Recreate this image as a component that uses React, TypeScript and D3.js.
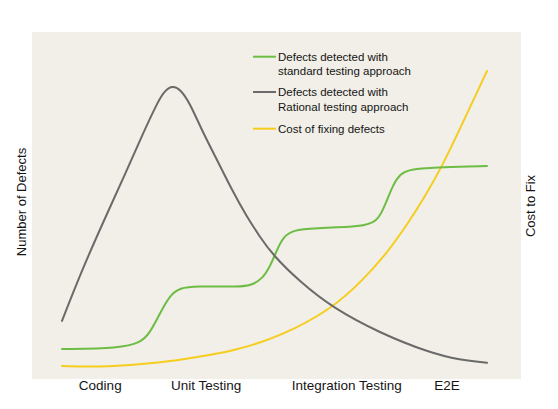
import { useEffect, useRef } from "react";
import * as d3 from "d3";

// x: progress along the project timeline (0-100), y: relative level (0-100)
const standardDefects: [number, number][] = [
  [0, 8.1], [13.6, 8.4], [18.4, 10], [20.7, 13.1], [23.1, 19.4], [25.4, 25],
  [27.8, 27.2], [31.3, 27.8], [41.9, 27.5], [44.7, 28.1], [47.3, 30.3],
  [48.9, 33.8], [50.6, 39.1], [52, 43.1], [54.4, 45.3], [59.1, 45.9],
  [70.8, 46.3], [74.1, 48.1], [75.5, 51.6], [76.5, 54.7], [77.9, 59.4],
  [79.5, 62.8], [81.9, 64.4], [89.4, 65], [100, 65.3],
];

const rationalDefects: [number, number][] = [
  [0, 16.9], [4.7, 32.8], [9.6, 47.5], [15.3, 64.1], [19.1, 75.6], [22.4, 85],
  [24, 88.6], [25.9, 90.5], [27.8, 89.4], [30.1, 85], [33.2, 75.6], [36.5, 67.2],
  [40, 57.8], [43.5, 49.4], [46.6, 43.1], [49.6, 37.5], [56, 29.1],
  [63.8, 20.9], [74.8, 13.1], [86.6, 6.9], [93.6, 4.7], [100, 3.8],
];

const fixCost: [number, number][] = [
  [0, 2.8], [10.6, 2.5], [23.3, 3.8], [31.8, 5.6], [39.5, 7.2], [51.3, 11.9],
  [63.8, 20.9], [70.8, 29.7], [76.5, 38.1], [81.9, 48.4], [84.9, 54.7],
  [89.4, 65], [94.6, 79.7], [100, 95],
];

const stages = ["Coding", "Unit Testing", "Integration Testing", "E2E"];
const stagePos = [9, 33.9, 67, 90.6];

const legendItems = [
  { lines: ["Defects detected with", "standard testing approach"], color: "#6dbd45" },
  { lines: ["Defects detected with", "Rational testing approach"], color: "#6a6a6a" },
  { lines: ["Cost of fixing defects"], color: "#f6cd1e" },
];

const App = () => {
  const ref = useRef<SVGSVGElement | null>(null);

  useEffect(() => {
    const width = 558;
    const height = 409;
    const svg = d3.select(ref.current);
    svg.selectAll("*").remove();
    svg.attr("width", width).attr("height", height);

    const font = "'Liberation Sans', Arial, sans-serif";
    const ink = "#151515";

    svg.append("rect").attr("width", width).attr("height", height).attr("fill", "#fff");

    // panel
    svg
      .append("rect")
      .attr("x", 32)
      .attr("y", 32)
      .attr("width", 489)
      .attr("height", 347)
      .attr("fill", "#f1efe7");

    const x = d3.scaleLinear().domain([0, 100]).range([62, 487]);
    const y = d3.scaleLinear().domain([0, 100]).range([375, 55]);

    const line = d3
      .line<[number, number]>()
      .x((d) => x(d[0]))
      .y((d) => y(d[1]))
      .curve(d3.curveBasis);

    const series = [
      { data: fixCost, color: legendItems[2].color },
      { data: standardDefects, color: legendItems[0].color },
      { data: rationalDefects, color: legendItems[1].color },
    ];

    series.forEach((s) => {
      svg
        .append("path")
        .attr("d", line(s.data))
        .attr("fill", "none")
        .attr("stroke", s.color)
        .attr("stroke-width", 2)
        .attr("stroke-linecap", "round");
    });

    // stage labels
    svg
      .selectAll(".stage")
      .data(stages)
      .enter()
      .append("text")
      .attr("class", "stage")
      .attr("x", (_d, i) => x(stagePos[i]))
      .attr("y", 390)
      .attr("text-anchor", "middle")
      .attr("font-family", font)
      .attr("font-size", 13.5)
      .attr("fill", ink)
      .text((d) => d);

    // axis titles
    svg
      .append("text")
      .attr("transform", "translate(26,202) rotate(-90)")
      .attr("text-anchor", "middle")
      .attr("font-family", font)
      .attr("font-size", 13)
      .attr("fill", ink)
      .text("Number of Defects");

    svg
      .append("text")
      .attr("transform", "translate(535,206) rotate(-90)")
      .attr("text-anchor", "middle")
      .attr("font-family", font)
      .attr("font-size", 13)
      .attr("fill", ink)
      .text("Cost to Fix");

    // legend
    const baselines = [60.7, 96, 132.7];
    legendItems.forEach((item, i) => {
      const g = svg.append("g").attr("transform", `translate(0,${baselines[i]})`);
      g.append("line")
        .attr("x1", 253)
        .attr("x2", 276)
        .attr("y1", -4)
        .attr("y2", -4)
        .attr("stroke", item.color)
        .attr("stroke-width", 2);
      item.lines.forEach((t, j) => {
        g.append("text")
          .attr("x", 278)
          .attr("y", j * 14.5)
          .attr("font-family", font)
          .attr("font-size", 11.5)
          .attr("fill", ink)
          .text(t);
      });
    });
  }, []);

  return (
    <svg
      ref={ref}
      style={{ position: "absolute", left: 0, top: 0, display: "block" }}
    ></svg>
  );
};

export default App;
